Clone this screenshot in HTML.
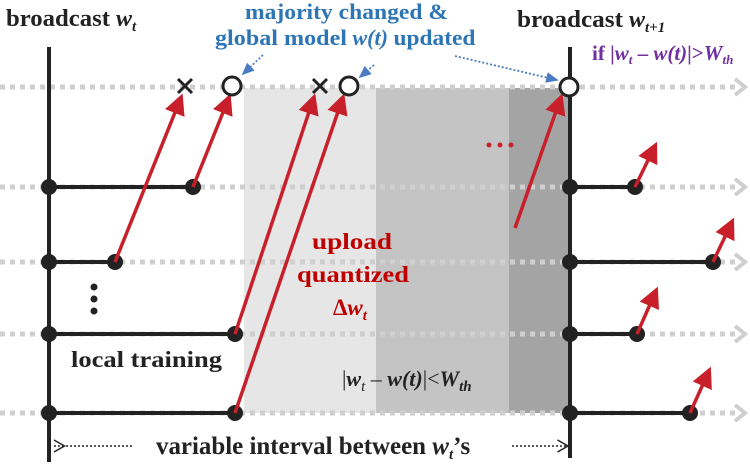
<!DOCTYPE html>
<html><head><meta charset="utf-8"><style>
html,body{margin:0;padding:0;background:#fff}
svg{display:block;font-family:"Liberation Serif",serif;font-weight:bold}
</style></head><body>
<svg width="750" height="468" viewBox="0 0 750 468">
<defs>
<marker id="ra" markerWidth="6" markerHeight="6" refX="4" refY="3" orient="auto" markerUnits="strokeWidth"><path d="M0,0 L6,3 L0,6 z" fill="#c8202a"/></marker>
<marker id="ba" markerWidth="8" markerHeight="8" refX="6" refY="4" orient="auto" markerUnits="strokeWidth"><path d="M0,1 L7,4 L0,7 z" fill="#4a7cc4"/></marker>
<marker id="ka" markerWidth="10" markerHeight="10" refX="8" refY="5" orient="auto" markerUnits="strokeWidth"><path d="M8,1 L1,5 L8,9" fill="none" stroke="#222" stroke-width="1"/></marker>
<marker id="ka2" markerWidth="10" markerHeight="10" refX="8" refY="5" orient="auto" markerUnits="strokeWidth"><path d="M1,1 L8,5 L1,9" fill="none" stroke="#222" stroke-width="1"/></marker>
</defs>
<g>
<rect x="244" y="88" width="132" height="325" fill="#e6e6e6"/>
<rect x="376" y="88" width="133" height="325" fill="#c4c4c4"/>
<rect x="509" y="88" width="61" height="325" fill="#a4a4a4"/>
</g>
<g stroke="#cfcfcf" stroke-width="5" stroke-dasharray="5,5" fill="none">
<line x1="0" y1="87" x2="738" y2="87"/>
<line x1="0" y1="187" x2="738" y2="187"/>
<line x1="0" y1="262" x2="738" y2="262"/>
<line x1="0" y1="334" x2="738" y2="334"/>
<line x1="0" y1="413" x2="738" y2="413"/>
</g>
<g stroke="#cfcfcf" stroke-width="4" fill="none">
<path d="M735,79 L745,87 L735,95"/><path d="M735,179 L745,187 L735,195"/><path d="M735,254 L745,262 L735,270"/><path d="M735,326 L745,334 L735,342"/><path d="M735,405 L745,413 L735,421"/>
</g>
<g stroke="#222" stroke-width="4">
<line x1="49" y1="47" x2="49" y2="462"/>
<line x1="570" y1="47" x2="570" y2="458"/>
<line x1="49" y1="187" x2="193" y2="187"/>
<line x1="49" y1="262" x2="115" y2="262"/>
<line x1="49" y1="334" x2="235" y2="334"/>
<line x1="49" y1="413" x2="235" y2="413"/>
<line x1="570" y1="187" x2="635" y2="187"/>
<line x1="570" y1="262" x2="713" y2="262"/>
<line x1="570" y1="334" x2="637" y2="334"/>
<line x1="570" y1="413" x2="690" y2="413"/>
</g>
<g fill="#222">
<circle cx="49" cy="187" r="8"/><circle cx="193" cy="187" r="8"/>
<circle cx="49" cy="262" r="8"/><circle cx="115" cy="262" r="8"/>
<circle cx="49" cy="334" r="8"/><circle cx="235" cy="334" r="8"/>
<circle cx="49" cy="413" r="8"/><circle cx="235" cy="413" r="8"/>
<circle cx="570" cy="187" r="8"/><circle cx="635" cy="187" r="8"/>
<circle cx="570" cy="262" r="8"/><circle cx="713" cy="262" r="8"/>
<circle cx="570" cy="334" r="8"/><circle cx="637" cy="334" r="8"/>
<circle cx="570" cy="413" r="8"/><circle cx="690" cy="413" r="8"/>
<circle cx="94" cy="287" r="3.5"/><circle cx="94" cy="299" r="3.5"/><circle cx="94" cy="311" r="3.5"/>
</g>
<g stroke="#c8202a" stroke-width="3.5" fill="none">
<line x1="193" y1="187" x2="228" y2="100" marker-end="url(#ra)"/>
<line x1="115" y1="262" x2="180" y2="100" marker-end="url(#ra)"/>
<line x1="235" y1="334" x2="313" y2="100" marker-end="url(#ra)"/>
<line x1="235" y1="413" x2="342" y2="100" marker-end="url(#ra)"/>
<line x1="515" y1="228" x2="560" y2="100" marker-end="url(#ra)"/>
<line x1="635" y1="187" x2="654" y2="148" marker-end="url(#ra)"/>
<line x1="713" y1="262" x2="731" y2="224" marker-end="url(#ra)"/>
<line x1="637" y1="334" x2="655" y2="293" marker-end="url(#ra)"/>
<line x1="690" y1="413" x2="708" y2="373" marker-end="url(#ra)"/>
</g>
<g fill="#c8202a"><circle cx="489" cy="145" r="2.5"/><circle cx="500" cy="145" r="2.5"/><circle cx="511" cy="145" r="2.5"/></g>
<g stroke="#222" stroke-width="3">
<path d="M178,79 L192,93 M192,79 L178,93"/>
<path d="M313,79 L327,93 M327,79 L313,93"/>
</g>
<g stroke="#222" stroke-width="3" fill="#fff">
<circle cx="232" cy="86" r="9"/><circle cx="349" cy="86" r="9"/><circle cx="569" cy="87" r="9"/>
</g>
<g stroke="#4a7cc4" stroke-width="1.8" stroke-dasharray="2,2" fill="none">
<line x1="263" y1="55" x2="243" y2="74" marker-end="url(#ba)"/>
<line x1="374" y1="65" x2="360" y2="77" marker-end="url(#ba)"/>
<line x1="455" y1="56" x2="557" y2="80" marker-end="url(#ba)"/>
</g>
<text x="6" y="26" font-size="24" fill="#222"><tspan textLength="104" lengthAdjust="spacingAndGlyphs">broadcast</tspan> <tspan font-style="italic">w</tspan><tspan font-style="italic" font-size="15" dy="5">t</tspan></text>
<text x="517" y="27" font-size="24" fill="#222"><tspan textLength="106" lengthAdjust="spacingAndGlyphs">broadcast</tspan> <tspan font-style="italic">w</tspan><tspan font-style="italic" font-size="15" dy="5">t+1</tspan></text>
<text x="245" y="19" font-size="22" fill="#2e75b6" textLength="203" lengthAdjust="spacingAndGlyphs">majority changed &amp;</text>
<text x="215" y="45" font-size="22" fill="#2e75b6"><tspan textLength="132" lengthAdjust="spacingAndGlyphs">global model</tspan> <tspan font-style="italic">w(t)</tspan> <tspan textLength="82" lengthAdjust="spacingAndGlyphs">updated</tspan></text>
<text x="592" y="60" font-size="21" fill="#7030a0">if |<tspan font-style="italic">w</tspan><tspan font-style="italic" font-size="13" dy="4">t</tspan><tspan dy="-4"> – </tspan><tspan font-style="italic">w(t)</tspan>|&gt;<tspan font-style="italic">W</tspan><tspan font-style="italic" font-size="13" dy="4">th</tspan></text>
<g fill="#c00000" font-size="23">
<text x="312" y="249" textLength="80" lengthAdjust="spacingAndGlyphs">upload</text>
<text x="297" y="282" textLength="112" lengthAdjust="spacingAndGlyphs">quantized</text>
<text x="333" y="315">Δ<tspan font-style="italic">w</tspan><tspan font-style="italic" font-size="15" dy="5">t</tspan></text>
</g>
<text x="71" y="367" font-size="23" fill="#222" textLength="151" lengthAdjust="spacingAndGlyphs">local training</text>
<text x="342" y="386" font-size="22" fill="#222" font-weight="normal">|<tspan font-style="italic" font-weight="bold">w</tspan><tspan font-style="italic" font-size="15" dy="5">t</tspan><tspan dy="-5"> – </tspan><tspan font-style="italic" font-weight="bold">w(t)</tspan>|&lt;<tspan font-style="italic" font-weight="bold">W</tspan><tspan font-style="italic" font-size="15" dy="5" font-weight="bold">th</tspan></text>
<text x="156" y="454" font-size="25" fill="#222"><tspan textLength="270" lengthAdjust="spacingAndGlyphs">variable interval between</tspan> <tspan font-style="italic">w</tspan><tspan font-style="italic" font-size="15" dy="5">t</tspan><tspan dy="-5">’s</tspan></text>
<g stroke="#222" stroke-width="1.5" stroke-dasharray="2,2" fill="none">
<line x1="132" y1="446" x2="54" y2="446" marker-end="url(#ka)"/>
<line x1="512" y1="446" x2="568" y2="446" marker-end="url(#ka2)"/>
</g>
</svg>
</body></html>
